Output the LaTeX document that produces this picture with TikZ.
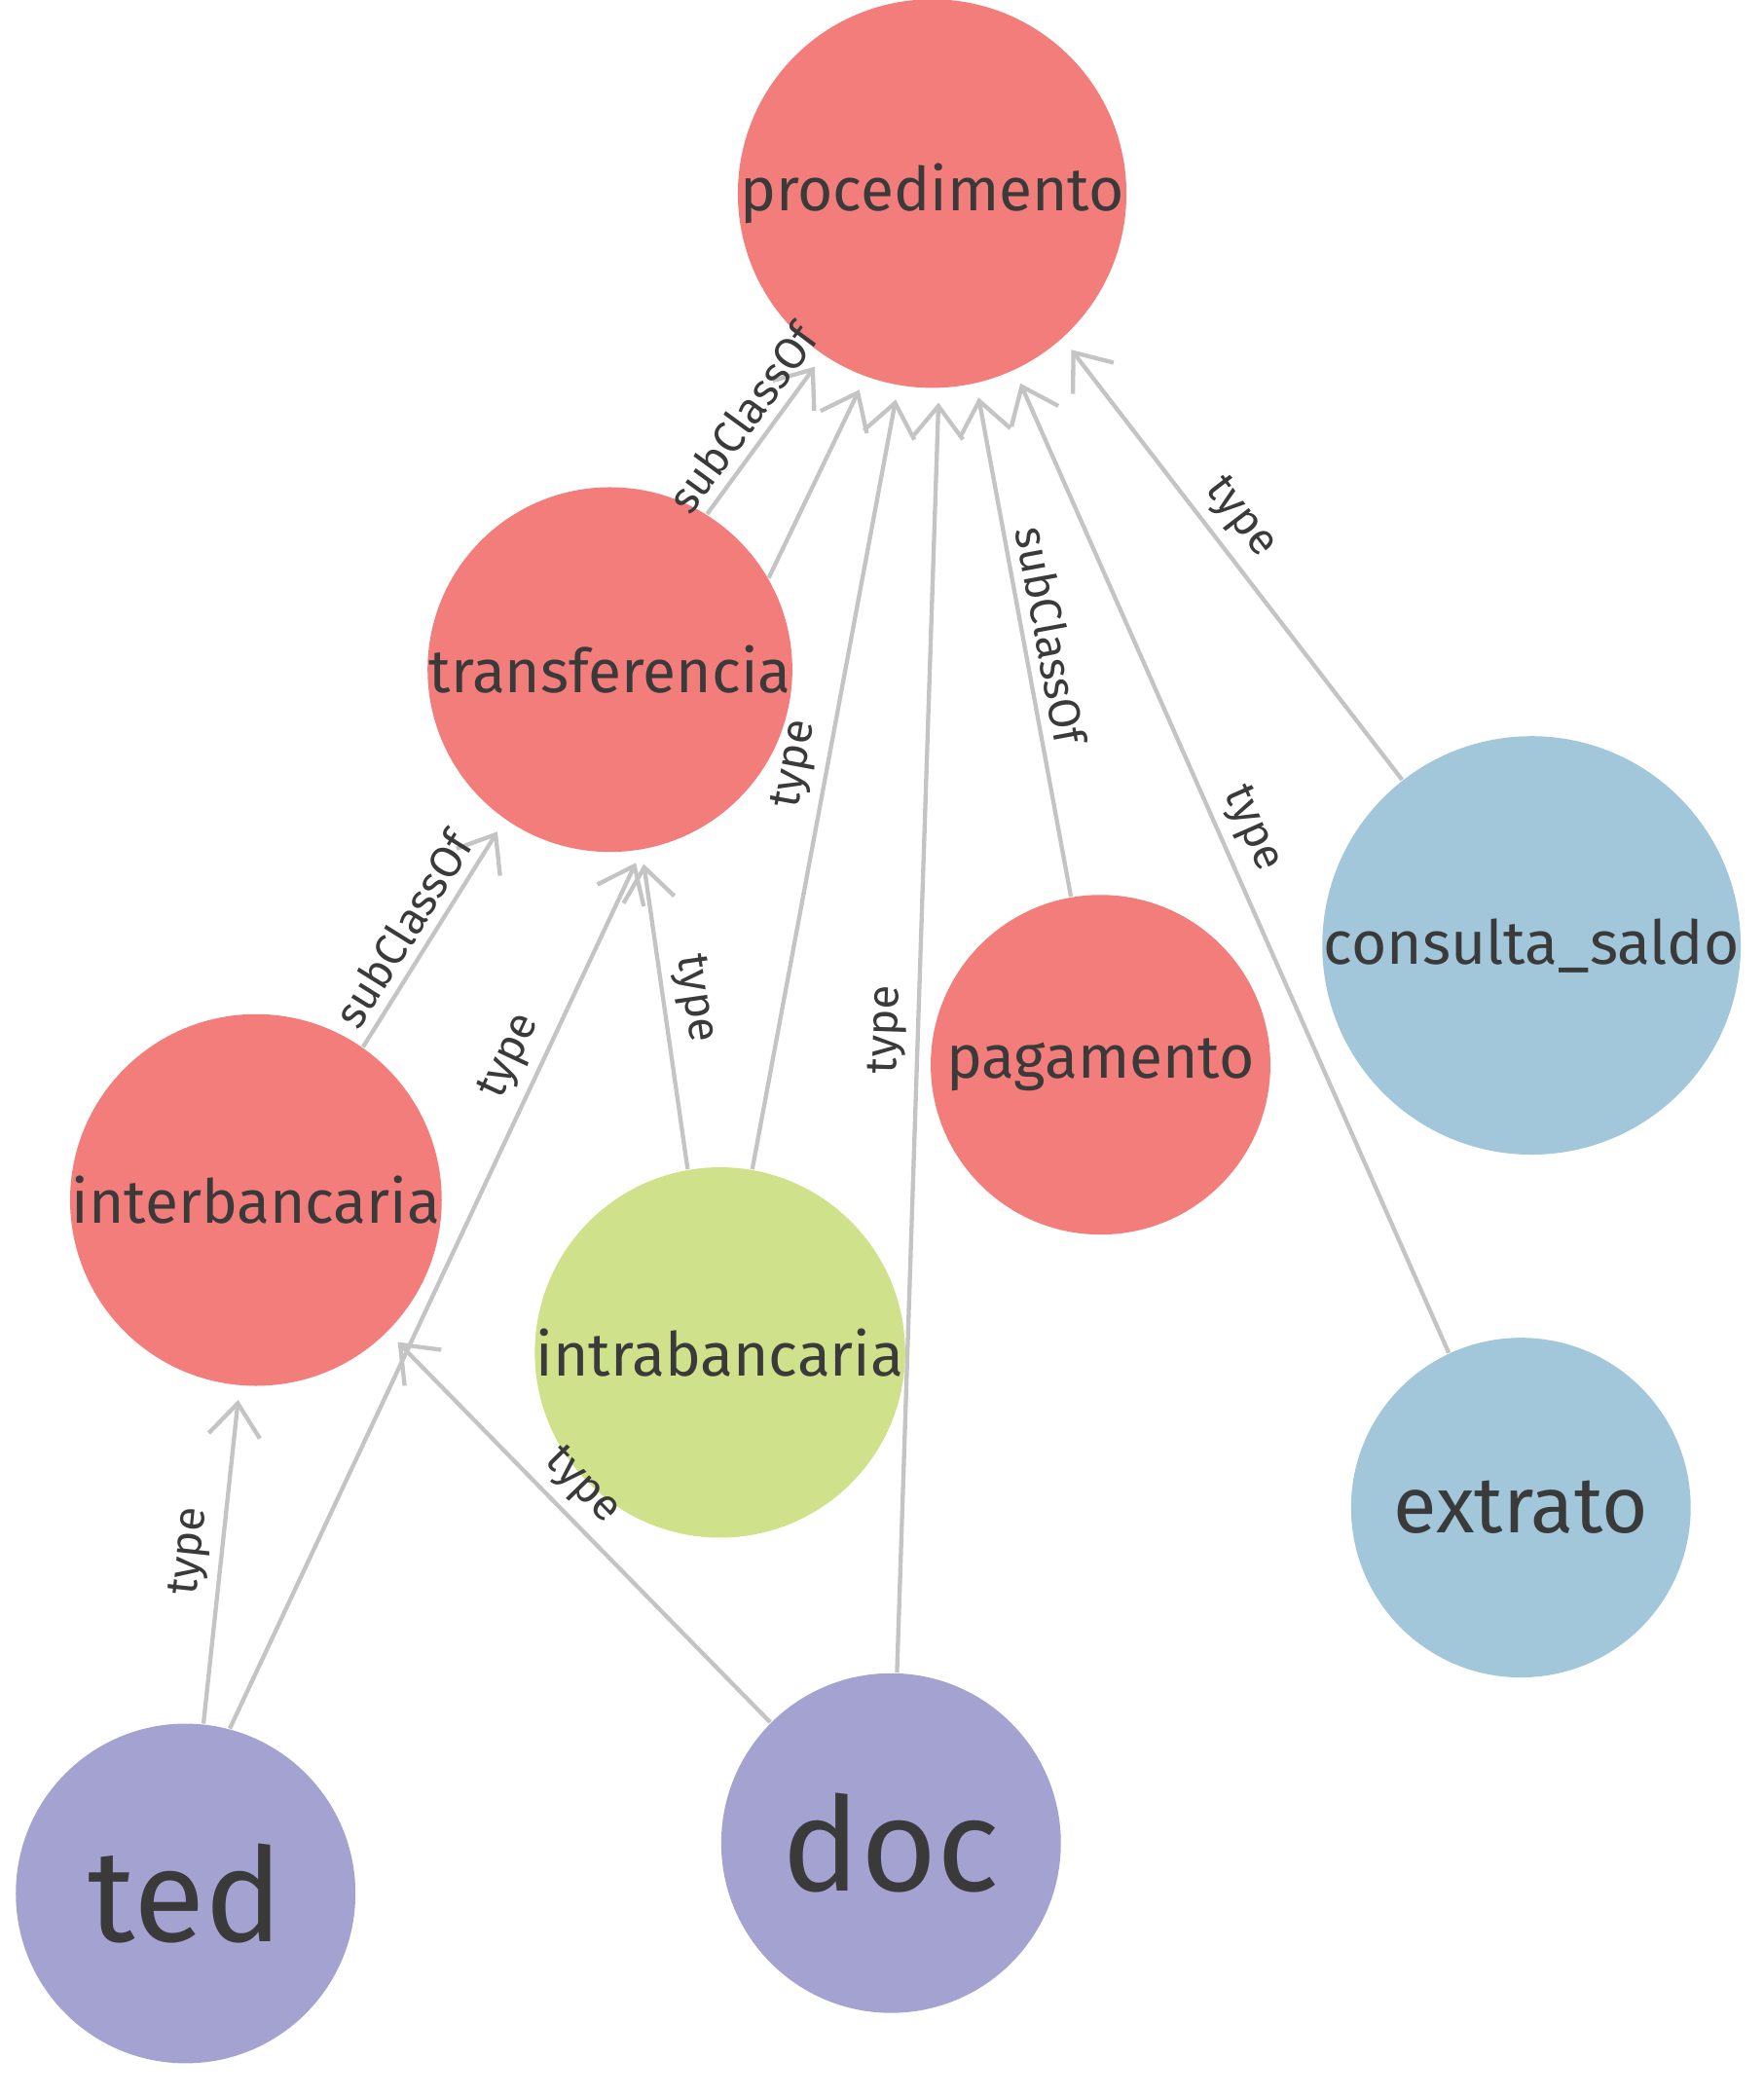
\documentclass[tikz,border=0pt]{standalone}
\usepackage{fontspec}
\setmainfont{Fira Sans}
\usetikzlibrary{arrows.meta}
\definecolor{cred}{HTML}{F37D7B}
\definecolor{cgreen}{HTML}{D0E18C}
\definecolor{cblue}{HTML}{A3C7DA}
\definecolor{cpurple}{HTML}{A3A2D0}
\definecolor{ctext}{HTML}{3A3A3A}
\definecolor{cline}{HTML}{C4C4C4}
\begin{document}
\begin{tikzpicture}[x=0.01cm,y=-0.01cm,
  ent/.style={circle,minimum size=2.56cm,inner sep=0pt,text=ctext,font=\fontsize{13}{15}\selectfont},
  big/.style={ent,font=\fontsize{28}{32}\selectfont},
  rel/.style={draw=cline,line width=0.9pt,-{Straight Barb[length=7pt,width=11pt]},shorten >=3pt},
  lab/.style={sloped,above,inner sep=2pt,text=ctext,font=\fontsize{9.5}{11}\selectfont}]
\useasboundingbox (0,0) rectangle (1330,1580);
\node[ent,fill=cred] (proc) at (703,146) {procedimento};
\node[ent,fill=cred] (trans) at (460,505) {transferencia};
\node[ent,fill=cred] (inter) at (193,905) {interbancaria};
\node[ent,fill=cgreen] (intra) at (543,1020) {intrabancaria};
\node[ent,fill=cred] (pag) at (830,803) {pagamento};
\node[ent,fill=cblue] (cons) at (1155,713) {consulta\_saldo};
\node[ent,fill=cblue,font=\fontsize{17}{20}\selectfont] (ext) at (1147,1137) {extrato};
\node[big,fill=cpurple] (ted) at (140,1428) {ted};
\node[big,fill=cpurple] (doc) at (672,1390) {doc};
\draw[rel] (trans.58) -- node[lab,pos=0.5]{subClassOf} (proc.236);
\draw[rel] (trans.30) -- (proc.250);
\draw[rel] (inter.55) -- node[lab,pos=0.45]{subClassOf} (trans.235);
\draw[rel] (ted.75) -- node[lab,pos=0.75]{type} (trans.280);
\draw[rel] (intra.100) -- node[lab,pos=0.52]{type} (trans.280);
\draw[rel] (intra.80) -- node[lab,pos=0.51]{type} (proc.260);
\draw[rel] (doc.88) -- node[lab,pos=0.5]{type} (proc.272);
\draw[rel] (pag.100) -- node[lab,pos=0.5]{subClassOf} (proc.283);
\draw[rel] (ext.115) -- node[lab,pos=0.52]{type} (proc.295);
\draw[rel] (cons.128) -- node[lab,pos=0.55]{type} (proc.312);
\draw[rel] (ted.84) -- node[lab,pos=0.5]{type} (inter.265);
\draw[rel] (doc.135) -- node[lab,pos=0.55]{type} (inter.315);
\end{tikzpicture}
\end{document}
